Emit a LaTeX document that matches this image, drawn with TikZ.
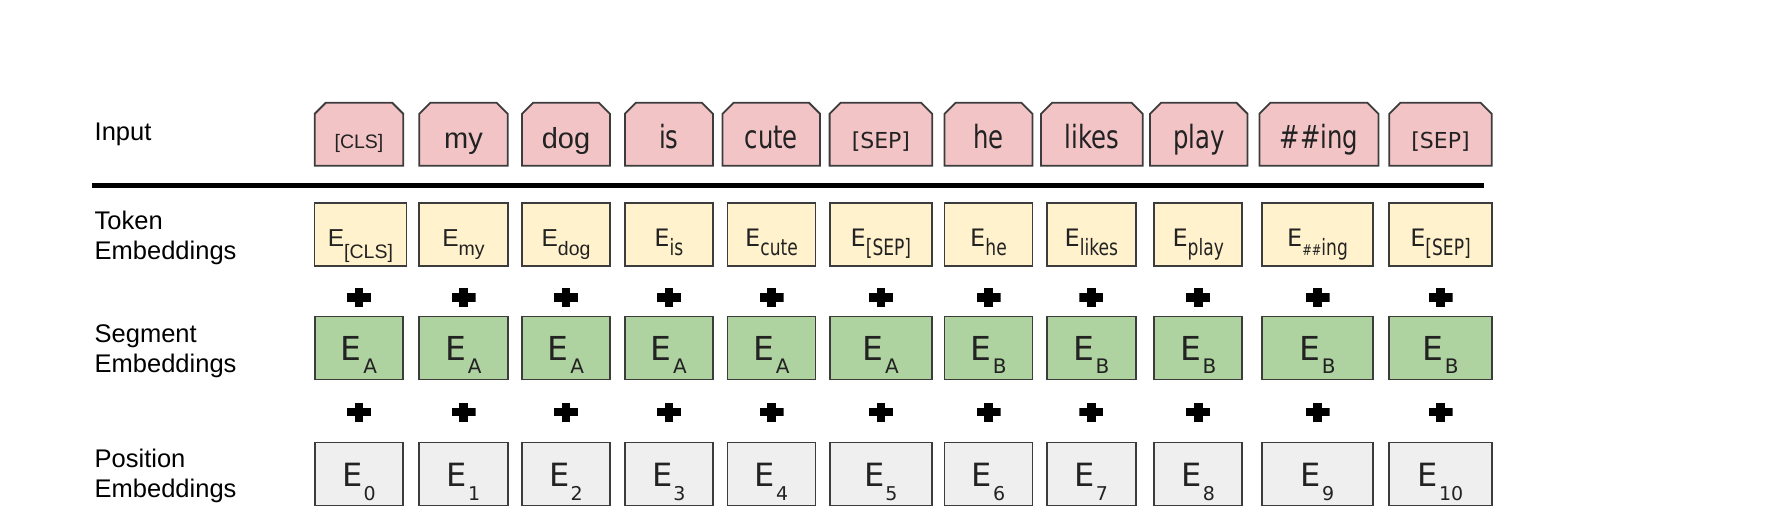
\documentclass[tikz,border=0pt]{standalone}
\usepackage{fontspec}
\setmainfont{Liberation Sans}
\newfontfamily\vera{DejaVu Sans}
\newfontfamily\veranarrow[FakeStretch=0.76]{DejaVu Sans}
\usetikzlibrary{shapes.misc}

\definecolor{inred}{HTML}{F2C4C6}
\definecolor{tokyellow}{HTML}{FFF2CC}
\definecolor{seggreen}{HTML}{AFD3A0}
\definecolor{posgray}{HTML}{EFEFEF}
\definecolor{boxline}{HTML}{3C3C3C}
\definecolor{boxtext}{HTML}{222222}

\newcommand{\fsz}[1]{\fontsize{#1}{#1}\selectfont}
% E with lowered index
\newcommand{\tokA}[2]{\fsz{24.5}E\raisebox{-#2pt}{\fsz{19.5}#1}}
\newcommand{\tokV}[2]{{\vera\fsz{24}E}\raisebox{-#2pt}{\veranarrow\fsz{22.5}#1}}
\newcommand{\segE}[1]{\vera\fsz{33}E\kern1.5pt\raisebox{-13pt}{\fsz{20}#1}}
\newcommand{\posE}[1]{\vera\fsz{32}E\kern1pt\raisebox{-14pt}{\fsz{19}#1}}

\tikzset{
  inbox/.style={chamfered rectangle, chamfered rectangle corners={north west,north east},
    chamfered rectangle xsep=5.5pt, chamfered rectangle ysep=5.5pt,
    draw=boxline, line width=1.8pt, fill=inred, text=boxtext, inner sep=0pt,
    minimum height=63pt, text height=28pt, text depth=0pt},
  tokbox/.style={rectangle, draw=boxline, line width=1.8pt, fill=tokyellow, text=boxtext,
    inner sep=0pt, minimum height=63pt, text height=24pt, text depth=0pt},
  segbox/.style={tokbox, fill=seggreen, text height=25pt},
  posbox/.style={tokbox, fill=posgray},
  plus/.style={inner sep=0pt, minimum width=24pt, minimum height=19pt, fill=white,
    path picture={
      \fill[black] ([xshift=-4.4pt]path picture bounding box.north) rectangle ([xshift=4.4pt]path picture bounding box.south);
      \fill[black] ([yshift=4.2pt]path picture bounding box.west) rectangle ([yshift=-4.2pt]path picture bounding box.east);}},
  lbl/.style={anchor=west, align=left, inner sep=0pt, font=\fontsize{25.5}{30}\selectfont},
}

\begin{document}
\begin{tikzpicture}[x=1pt, y=-1pt]
    \useasboundingbox (0,0) rectangle (1770,530);

    % row labels
    \node[lbl, anchor=base west] (lblIn) at (94.5,140) {Input};
    \node[lbl] (lblTok) at (94.5,237.5) {Token\\Embeddings};
    \node[lbl] (lblSeg) at (94.5,351.6) {Segment\\Embeddings};
    \node[lbl] (lblPos) at (94.5,476.2) {Position\\Embeddings};

    % input
    \node[inbox, minimum width=88.6pt] (in1) at (359,134.3) {\fsz{19.5}[CLS]};
    \node[inbox, minimum width=88.4pt] (in2) at (463.5,134.3) {\fsz{29}my};
    \node[inbox, minimum width=88pt] (in3) at (566,134.3) {\fsz{29}dog};
    \node[inbox, minimum width=88pt] (in4) at (668.9,134.3) {\veranarrow\fsz{32}is};
    \node[inbox, minimum width=97.5pt] (in5) at (771.3,134.3) {\veranarrow\fsz{32}cute};
    \node[inbox, minimum width=102.6pt] (in6) at (880.9,134.3) {\vera\fsz{22}[SEP]};
    \node[inbox, minimum width=88pt] (in7) at (988.5,134.3) {\veranarrow\fsz{32}he};
    \node[inbox, minimum width=101.7pt] (in8) at (1091.9,134.3) {\veranarrow\fsz{32}likes};
    \node[inbox, minimum width=97.5pt] (in9) at (1198.8,134.3) {\veranarrow\fsz{32}play};
    \node[inbox, minimum width=119pt] (in10) at (1318.9,134.3) {\veranarrow\fsz{32}\#\#ing};
    \node[inbox, minimum width=102.4pt] (in11) at (1440.5,134.3) {\vera\fsz{22}[SEP]};

    \coordinate (sepL) at (91.5,185.5);
    \coordinate (sepR) at (1484,185.5);
    \draw[line width=4.3pt] (sepL) -- (sepR);

    % token embeddings
    \node[tokbox, minimum width=92pt] (tk1) at (360.4,234.3) {\tokA{[CLS]}{12}};
    \node[tokbox, minimum width=88.4pt] (tk2) at (463.5,234.3) {\tokA{my}{9}};
    \node[tokbox, minimum width=88pt] (tk3) at (566,234.3) {\tokA{dog}{9}};
    \node[tokbox, minimum width=88pt] (tk4) at (668.9,234.3) {\tokV{is}{9}};
    \node[tokbox, minimum width=88pt] (tk5) at (771.5,234.3) {\tokV{cute}{9}};
    \node[tokbox, minimum width=102.6pt] (tk6) at (880.9,234.3) {\tokV{[SEP]}{9}};
    \node[tokbox, minimum width=88pt] (tk7) at (988.5,234.3) {\tokV{he}{9}};
    \node[tokbox, minimum width=88.8pt] (tk8) at (1091.4,234.3) {\tokV{likes}{9}};
    \node[tokbox, minimum width=88.3pt] (tk9) at (1198.2,234.3) {\tokV{play}{9}};
    \node[tokbox, minimum width=111.6pt] (tk10) at (1317.5,234.3) {\tokV{{\fsz{15}\#\#}ing}{9}};
    \node[tokbox, minimum width=102.4pt] (tk11) at (1440.5,234.3) {\tokV{[SEP]}{9}};

    \node[plus] (plA1) at (359,297.5) {};
    \node[plus] (plA2) at (463.5,297.5) {};
    \node[plus] (plA3) at (566,297.5) {};
    \node[plus] (plA4) at (668.9,297.5) {};
    \node[plus] (plA5) at (771.5,297.5) {};
    \node[plus] (plA6) at (880.9,297.5) {};
    \node[plus] (plA7) at (988.5,297.5) {};
    \node[plus] (plA8) at (1091.4,297.5) {};
    \node[plus] (plA9) at (1198.2,297.5) {};
    \node[plus] (plA10) at (1317.5,297.5) {};
    \node[plus] (plA11) at (1440.5,297.5) {};

    % segment embeddings
    \node[segbox, minimum width=88.6pt] (sg1) at (359,348) {\segE{A}};
    \node[segbox, minimum width=88.4pt] (sg2) at (463.5,348) {\segE{A}};
    \node[segbox, minimum width=88pt] (sg3) at (566,348) {\segE{A}};
    \node[segbox, minimum width=88pt] (sg4) at (668.9,348) {\segE{A}};
    \node[segbox, minimum width=88pt] (sg5) at (771.5,348) {\segE{A}};
    \node[segbox, minimum width=102.6pt] (sg6) at (880.9,348) {\segE{A}};
    \node[segbox, minimum width=88pt] (sg7) at (988.5,348) {\segE{B}};
    \node[segbox, minimum width=88.8pt] (sg8) at (1091.4,348) {\segE{B}};
    \node[segbox, minimum width=88.3pt] (sg9) at (1198.2,348) {\segE{B}};
    \node[segbox, minimum width=111.6pt] (sg10) at (1317.5,348) {\segE{B}};
    \node[segbox, minimum width=102.4pt] (sg11) at (1440.5,348) {\segE{B}};

    \node[plus] (plB1) at (359,412) {};
    \node[plus] (plB2) at (463.5,412) {};
    \node[plus] (plB3) at (566,412) {};
    \node[plus] (plB4) at (668.9,412) {};
    \node[plus] (plB5) at (771.5,412) {};
    \node[plus] (plB6) at (880.9,412) {};
    \node[plus] (plB7) at (988.5,412) {};
    \node[plus] (plB8) at (1091.4,412) {};
    \node[plus] (plB9) at (1198.2,412) {};
    \node[plus] (plB10) at (1317.5,412) {};
    \node[plus] (plB11) at (1440.5,412) {};

    % position embeddings
    \node[posbox, minimum width=88.6pt] (ps1) at (359,474) {\posE{0}};
    \node[posbox, minimum width=88.4pt] (ps2) at (463.5,474) {\posE{1}};
    \node[posbox, minimum width=88pt] (ps3) at (566,474) {\posE{2}};
    \node[posbox, minimum width=88pt] (ps4) at (668.9,474) {\posE{3}};
    \node[posbox, minimum width=88pt] (ps5) at (771.5,474) {\posE{4}};
    \node[posbox, minimum width=102.6pt] (ps6) at (880.9,474) {\posE{5}};
    \node[posbox, minimum width=88pt] (ps7) at (988.5,474) {\posE{6}};
    \node[posbox, minimum width=88.8pt] (ps8) at (1091.4,474) {\posE{7}};
    \node[posbox, minimum width=88.3pt] (ps9) at (1198.2,474) {\posE{8}};
    \node[posbox, minimum width=111.6pt] (ps10) at (1317.5,474) {\posE{9}};
    \node[posbox, minimum width=102.4pt] (ps11) at (1440.5,474) {\posE{10}};
\end{tikzpicture}
\end{document}
